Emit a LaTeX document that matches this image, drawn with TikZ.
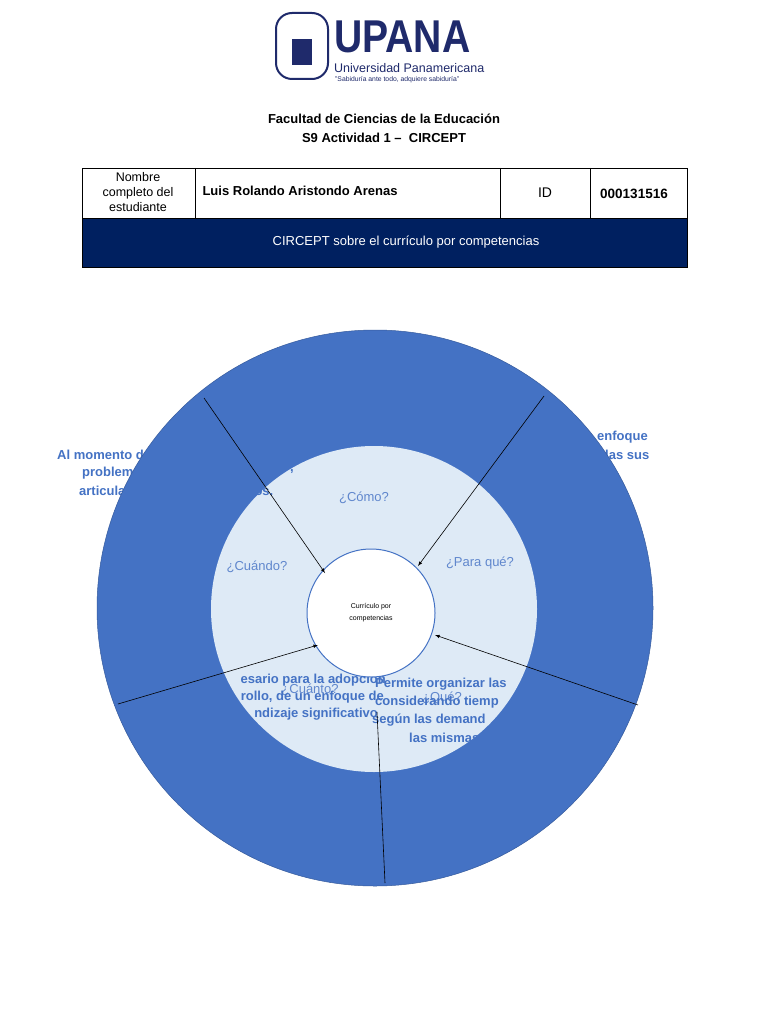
\documentclass[tikz,border=0pt]{standalone}
\usepackage{fontspec}
\setmainfont{Liberation Sans}
\definecolor{navy}{HTML}{1F2A6B}
\definecolor{darkrow}{HTML}{002060}
\definecolor{ringblue}{HTML}{4472C4}
\definecolor{lightfill}{HTML}{DEEAF6}
\definecolor{txtblue}{HTML}{4472C4}
\begin{document}
\begin{tikzpicture}[x=1pt,y=-1pt,
  frag/.style={text=txtblue,font=\bfseries\fontsize{13}{15}\selectfont,inner sep=0pt,align=center},
  qlab/.style={text=txtblue!85,font=\fontsize{13}{15}\selectfont},
  conn/.style={draw=black,line width=0.6pt,-latex},
  cell/.style={draw=black,line width=0.6pt}]
\useasboundingbox (0,0) rectangle (768,1024);
\fill[white] (0,0) rectangle (768,1024);
% logo
\node[draw=navy,line width=2pt,fill=white,minimum width=52pt,minimum height=66pt,rounded corners=16pt] (shield) at (302,46) {};
\node[fill=navy,minimum width=20pt,minimum height=26pt,inner sep=0pt] (map) at (302,52) {};
\node[font=\bfseries\fontsize{46}{46}\selectfont,text=navy,anchor=west,inner sep=0pt,xscale=0.85] (upana) at (334,37) {UPANA};
\node[font=\fontsize{12.5}{14}\selectfont,text=navy,anchor=west,inner sep=0pt] (uni) at (334,68) {Universidad Panamericana};
\node[font=\fontsize{6.8}{7}\selectfont,text=navy,anchor=west,inner sep=0pt] (motto) at (335,80) {"Sabiduría ante todo, adquiere sabiduría"};
% title
\node[font=\bfseries\fontsize{13}{15}\selectfont] (t1) at (384,119) {Facultad de Ciencias de la Educación};
\node[font=\bfseries\fontsize{13}{15}\selectfont] (t2) at (384,138) {S9 Actividad 1 –\ \ CIRCEPT};
% table
\fill[darkrow] (82,218) rectangle (687,267);
\draw[cell] (82,168) rectangle (687,267);
\draw[cell] (82,218) -- (687,218);
\draw[cell] (195,168) -- (195,218);
\draw[cell] (500,168) -- (500,218);
\draw[cell] (590,168) -- (590,218);
\node[align=center,font=\fontsize{12.5}{15}\selectfont] (c1) at (138,192) {Nombre\\completo del\\estudiante};
\node[anchor=west,font=\bfseries\fontsize{13}{15}\selectfont] (c2) at (199,191) {Luis Rolando Aristondo Arenas};
\node[font=\fontsize{14}{15}\selectfont] (c3) at (545,193) {ID};
\node[font=\bfseries\fontsize{13.5}{15}\selectfont] (c4) at (634,194) {000131516};
\node[text=white,font=\fontsize{13}{15}\selectfont] (c5) at (406,242) {CIRCEPT sobre el currículo por competencias};
% outside fragments
\node[frag,anchor=west] (fa) at (57,455) {Al momento d};
\node[frag,anchor=west] (fb) at (82,473) {problem};
\node[frag,anchor=west] (fc) at (79,491) {articula};
\node[frag,anchor=west] (fd) at (597,437) {enfoque};
\node[frag,anchor=west] (fe) at (605,455) {las sus};
% rings
\fill[ringblue] (375,608) circle (278);
\draw[ringblue!80!black,line width=0.5pt] (375,608) circle (278);
\fill[lightfill] (374,609) circle (163);
\node[frag,anchor=west] (ff) at (290,472) {,};
\node[frag,anchor=west] (fg) at (250,491) {tos.};
\node[qlab] (como) at (364,498) {¿Cómo?};
\node[qlab] (paraque) at (480,563) {¿Para qué?};
\node[qlab] (cuando) at (257,567) {¿Cuándo?};
\node[qlab] (cuanto) at (310,690) {¿Cuánto?};
\node[qlab] (que) at (442,698) {¿Qué?};
\begin{scope}
\clip (374,609) circle (163);
\node[frag,anchor=east] (l1) at (386,680) {esario para la adopción};
\node[frag,anchor=east] (l2) at (384,697) {rollo, de un enfoque de};
\node[frag,anchor=east] (l3) at (378,714) {ndizaje significativo};
\node[frag,anchor=west] (r1) at (375,684) {Permite organizar las};
\node[frag,anchor=west] (r2) at (375,702) {considerando tiemp};
\node[frag,anchor=west] (r3) at (372,720) {según las demand};
\node[frag,anchor=west] (r4) at (409,738) {las mismas};
\end{scope}
\node[circle,fill=white,draw=ringblue,line width=1pt,minimum size=128pt,inner sep=0pt,align=center,font=\fontsize{7}{12}\selectfont] (core) at (371,613) {Currículo por\\competencias};
% connectors
\coordinate (p1) at (204,398);
\coordinate (p2) at (544,396);
\coordinate (p3) at (638,705);
\coordinate (p4) at (118,704);
\coordinate (p5) at (385,883);
\coordinate (p5e) at (377,712);
\draw[conn] (p1) -- (325,573);
\draw[conn] (p2) -- (418,566);
\draw[conn] (p3) -- (435,635);
\draw[conn] (p4) -- (318,645);
\draw[draw=black,line width=0.6pt] (p5) -- (p5e);
\end{tikzpicture}
\end{document}
